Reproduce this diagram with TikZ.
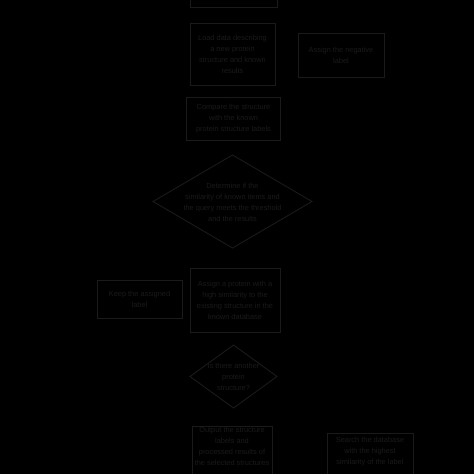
\documentclass[tikz,border=0pt]{standalone}
\usepackage{fontspec}
\setmainfont{Liberation Sans}
\definecolor{ink}{RGB}{26,26,28}
\begin{document}
\begin{tikzpicture}[x=1pt,y=-1pt,
  box/.style={draw=ink,line width=0.9pt,rectangle,inner sep=0pt,align=center,text=ink,font=\fontsize{7.4}{11}\selectfont},
  txt/.style={align=center,text=ink,inner sep=0pt,font=\fontsize{7.4}{11}\selectfont}]
\fill[black] (0,0) rectangle (474,474);
\useasboundingbox (0,0) rectangle (474,474);
% top box (text off canvas)
\node[box,minimum width=87pt,minimum height=50pt] (top) at (233.5,-18) {};
\node[box,minimum width=85pt,minimum height=62pt] (load) at (232.5,54) {Load data describing\\a new protein\\structure and known\\results};
\node[box,minimum width=86pt,minimum height=44pt] (neg) at (341,55) {Assign the negative\\label};
\node[box,minimum width=94pt,minimum height=43pt] (comp) at (233.5,118.5) {Compare the structure\\with the known\\protein structure labels};
\draw[ink,line width=0.9pt] (153,201.5) -- (232.5,155) -- (312,201.5) -- (232.5,248) -- cycle;
\node[txt] (det) at (232.5,202) {Determine if the\\similarity of known items and\\the query meets the threshold\\and the results};
\node[box,minimum width=85pt,minimum height=38pt] (keep) at (139.5,299) {Keep the assigned\\label};
\node[box,minimum width=90pt,minimum height=64pt] (assign) at (235,300) {Assign a protein with a\\high similarity to the\\existing structure in the\\known database};
\draw[ink,line width=0.9pt] (190,376.5) -- (233.5,345) -- (277,376.5) -- (233.5,408) -- cycle;
\node[txt] (q) at (233.5,377) {Is there another\\protein\\structure?};
\node[box,minimum width=80pt,minimum height=70pt,anchor=north] (out) at (232,426) {};
\node[txt,anchor=north] (outt) at (232,427) {Output the structure\\labels and\\processed results of\\the selected structures};
\node[box,minimum width=86pt,minimum height=60pt,anchor=north] (srch) at (370,433) {};
\node[txt,anchor=north] (srcht) at (370,437) {Search the database\\with the highest\\similarity of the label};
\end{tikzpicture}
\end{document}
